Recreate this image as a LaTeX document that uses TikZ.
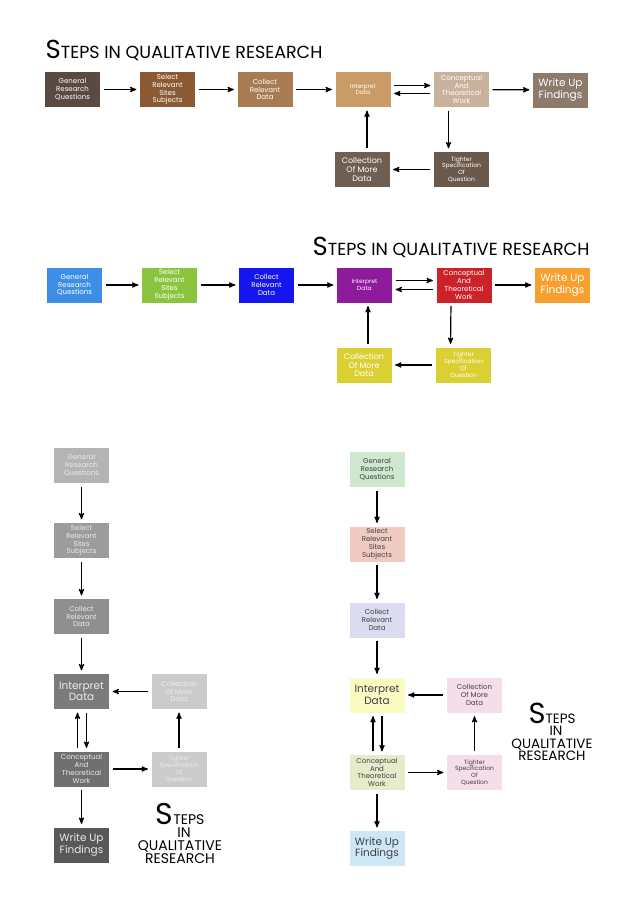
\documentclass[tikz,border=0pt]{standalone}
\usepackage{fontspec}
\setmainfont{Poppins}
\usepackage{xcolor}
\usepackage{tikz}
\usetikzlibrary{positioning,arrows}

% brown set
\definecolor{brA}{HTML}{5B4942}
\definecolor{brB}{HTML}{8B5A32}
\definecolor{brC}{HTML}{A97B52}
\definecolor{brD}{HTML}{C99B66}
\definecolor{brE}{HTML}{C9B29B}
\definecolor{brF}{HTML}{8C7A6B}
\definecolor{brG}{HTML}{6F5F53}
\definecolor{brH}{HTML}{6B5A4C}
% bright set
\definecolor{coA}{HTML}{3D8FE6}
\definecolor{coB}{HTML}{8BC53F}
\definecolor{coC}{HTML}{1515F0}
\definecolor{coD}{HTML}{8E1A9C}
\definecolor{coE}{HTML}{CC2229}
\definecolor{coF}{HTML}{F8A02E}
\definecolor{coG}{HTML}{DBD032}
% grey set
\definecolor{grA}{HTML}{B4B4B4}
\definecolor{grB}{HTML}{9C9C9C}
\definecolor{grC}{HTML}{8F8F8F}
\definecolor{grD}{HTML}{7B7B7B}
\definecolor{grE}{HTML}{707070}
\definecolor{grF}{HTML}{585858}
\definecolor{grG}{HTML}{CBCBCB}
% pastel set
\definecolor{paA}{HTML}{CDE8CF}
\definecolor{paB}{HTML}{F1CBC3}
\definecolor{paC}{HTML}{DCDCF0}
\definecolor{paD}{HTML}{FBFBC4}
\definecolor{paE}{HTML}{E4ECCA}
\definecolor{paF}{HTML}{CFE6F5}
\definecolor{paG}{HTML}{F5DDE9}

\newcommand{\bigS}[1][26]{{\fontsize{#1}{#1}\selectfont S}}

\tikzset{
  box/.style={rectangle,minimum width=55pt,minimum height=35pt,inner sep=1pt,align=center,text=white,font=\fontsize{7}{7.8}\selectfont},
  fsix/.style={font=\fontsize{6}{6.8}\selectfont},
  feight/.style={font=\fontsize{8}{8.8}\selectfont},
  ften/.style={font=\fontsize{10.5}{11.5}\selectfont},
  heading/.style={inner sep=0pt,font=\fontsize{17.5}{17.5}\selectfont},
  stack/.style={inner sep=0pt,align=center,font=\fontsize{14}{13}\selectfont}
}

\begin{document}
\begin{tikzpicture}[x=1pt,y=-1pt,->,>=stealth',line width=1.2pt,shorten >=3pt,shorten <=3pt]
\useasboundingbox[fill=white] (0,0) rectangle (635,900);

%% top row, brown
\node[heading,anchor=base west] (title1) at (45,58) {\bigS TEPS IN QUALITATIVE RESEARCH};
\node[box,fill=brA] (gen1) at (72.5,89.5) {General\\Research\\Questions};
\node[box,fill=brB] (sel1) at (167.5,89.5) {Select\\Relevant\\Sites\\Subjects};
\node[box,fill=brC] (col1) at (265,89.5) {Collect\\Relevant\\Data};
\node[box,fsix,fill=brD] (int1) at (363,89.5) {Interpret\\Data};
\node[box,fill=brE] (con1) at (461.5,89.5) {Conceptual\\And\\Theoretical\\Work};
\node[box,ften,fill=brF] (wri1) at (560.5,90) {Write Up\\Findings};
\node[box,feight,fill=brG] (mor1) at (362,169.5) {Collection\\Of More\\Data};
\node[box,fsix,fill=brH] (tig1) at (461.5,169.5) {Tighter\\Specification\\Of\\Question};

\draw (gen1) edge (sel1)
      (sel1) edge (col1)
      (col1) edge (int1)
      (con1) edge (wri1)
      (tig1) edge (mor1);
\draw ([yshift=4pt]int1.east) -- ([yshift=4pt]con1.west);
\draw ([yshift=-4pt]con1.west) -- ([yshift=-4pt]int1.east);
\draw ([xshift=-13pt]con1.south) -- ([xshift=-13pt]tig1.north);
\draw ([xshift=5pt]mor1.north) -- ([xshift=5pt]mor1.north |- int1.south);

%% second row, bright
\node[heading,anchor=base west] (title2) at (312,255) {\bigS TEPS IN QUALITATIVE RESEARCH};
\node[box,fill=coA] (gen2) at (74.5,285) {General\\Research\\Questions};
\node[box,fill=coB] (sel2) at (169.5,285) {Select\\Relevant\\Sites\\Subjects};
\node[box,fill=coC] (col2) at (266.5,285) {Collect\\Relevant\\Data};
\node[box,fsix,fill=coD] (int2) at (364.5,285) {Interpret\\Data};
\node[box,fill=coE] (con2) at (464,285) {Conceptual\\And\\Theoretical\\Work};
\node[box,ften,fill=coF] (wri2) at (562.5,285) {Write Up\\Findings};
\node[box,feight,fill=coG] (mor2) at (364,365) {Collection\\Of More\\Data};
\node[box,fsix,fill=coG] (tig2) at (463.5,365) {Tighter\\Specification\\Of\\Question};

\draw (gen2) edge (sel2)
      (sel2) edge (col2)
      (col2) edge (int2)
      (con2) edge (wri2)
      (tig2) edge (mor2);
\draw ([yshift=4.5pt]int2.east) -- ([yshift=4.5pt]con2.west);
\draw ([yshift=-4.5pt]con2.west) -- ([yshift=-4.5pt]int2.east);
\draw ([xshift=-13pt]con2.south) -- ([xshift=-13pt]tig2.north);
\draw ([xshift=4pt]mor2.north) -- ([xshift=4pt]mor2.north |- int2.south);

%% left column, grey
\node[box,fill=grA,text=white!92!black] (gen3) at (81.5,465.5) {General\\Research\\Questions};
\node[box,fill=grB,text=white!92!black] (sel3) at (81.5,540.5) {Select\\Relevant\\Sites\\Subjects};
\node[box,fill=grC,text=white!92!black] (col3) at (81.5,616.5) {Collect\\Relevant\\Data};
\node[box,ften,fill=grD,text=white!92!black] (int3) at (81.5,691.5) {Interpret\\Data};
\node[box,fill=grG,text=white!92!black] (mor3) at (179,691.5) {Collection\\Of More\\Data};
\node[box,fill=grE,text=white!92!black] (con3) at (81.5,769) {Conceptual\\And\\Theoretical\\Work};
\node[box,fsix,fill=grG,text=white!92!black] (tig3) at (179,769) {Tighter\\Specification\\Of\\Question};
\node[box,ften,fill=grF,text=white!92!black] (wri3) at (81.5,845) {Write Up\\Findings};
\node[stack] (title3) at (180,833) {\bigS[30]TEPS\\\hspace{8pt}IN\\QUALITATIVE\\RESEARCH};

\draw (gen3) edge (sel3)
      (sel3) edge (col3)
      (col3) edge (int3)
      (mor3) edge (int3)
      (con3) edge (tig3)
      (tig3) edge (mor3)
      (con3) edge (wri3);
\draw ([xshift=-4pt]con3.north) -- ([xshift=-4pt]int3.south);
\draw ([xshift=5pt]int3.south) -- ([xshift=5pt]con3.north);

%% right column, pastel
\node[box,fill=paA,text=black!75] (gen4) at (377,469.5) {General\\Research\\Questions};
\node[box,fill=paB,text=black!75] (sel4) at (377,544) {Select\\Relevant\\Sites\\Subjects};
\node[box,fill=paC,text=black!75] (col4) at (377,620) {Collect\\Relevant\\Data};
\node[box,ften,fill=paD,text=black!75] (int4) at (377,695) {Interpret\\Data};
\node[box,fill=paG,text=black!75] (mor4) at (474.5,695) {Collection\\Of More\\Data};
\node[box,fill=paE,text=black!75] (con4) at (377,772.5) {Conceptual\\And\\Theoretical\\Work};
\node[box,fsix,fill=paG,text=black!75] (tig4) at (474.5,772.5) {Tighter\\Specification\\Of\\Question};
\node[box,ften,fill=paF,text=black!75] (wri4) at (377,848.5) {Write Up\\Findings};
\node[stack,font=\fontsize{13.5}{12.5}\selectfont] (title4) at (552,732) {\bigS[29]TEPS\\\hspace{8pt}IN\\QUALITATIVE\\RESEARCH};

\draw (gen4) edge (sel4)
      (sel4) edge (col4)
      (col4) edge (int4)
      (mor4) edge (int4)
      (con4) edge (tig4)
      (tig4) edge (mor4)
      (con4) edge (wri4);
\draw ([xshift=-4pt]con4.north) -- ([xshift=-4pt]int4.south);
\draw ([xshift=5pt]int4.south) -- ([xshift=5pt]con4.north);
\end{tikzpicture}
\end{document}
